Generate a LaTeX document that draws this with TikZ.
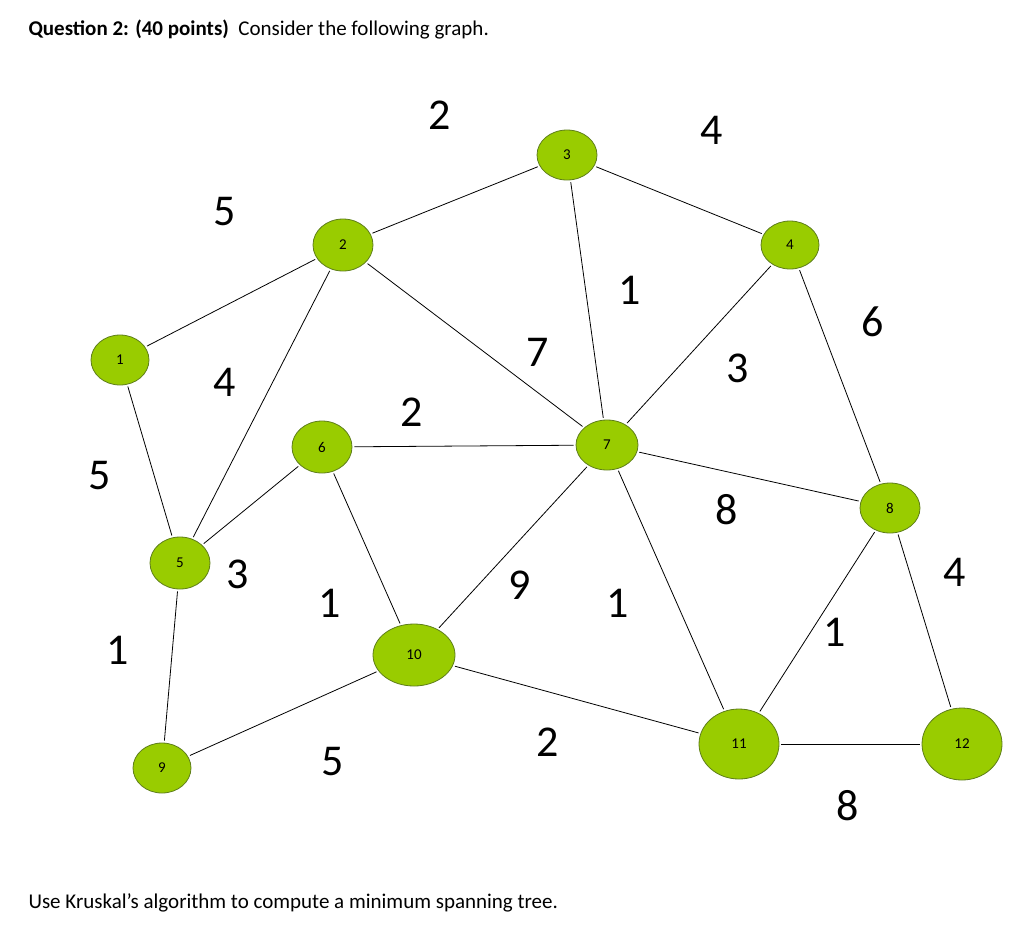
\documentclass[tikz,border=0pt]{standalone}
\usepackage{fontspec}
\setmainfont{Carlito}
\definecolor{ng}{HTML}{99CC00}
\definecolor{nb}{HTML}{5E7E1A}
\begin{document}
\begin{tikzpicture}[x=1pt,y=-1pt,
  vtx/.style={ellipse,draw=nb,line width=0.8pt,fill=ng,inner sep=0pt,font=\fontsize{15}{15}\selectfont},
  edge/.style={line width=0.8pt,shorten <=2pt,shorten >=2pt},
  wt/.style={font=\fontsize{44}{44}\selectfont}]
\useasboundingbox (0,0) rectangle (1024,927);
\usetikzlibrary{shapes.geometric}
\node[anchor=west,font=\fontsize{21}{21}\selectfont] (title) at (25,30) {\textbf{Question 2: (40 points)}\ \ Consider the following graph.};
\node[anchor=west,font=\fontsize{21}{21}\selectfont] (foot) at (25,903) {Use Kruskal’s algorithm to compute a minimum spanning tree.};
\node[vtx,minimum width=58,minimum height=50] (n1) at (120,360) {1};
\node[vtx,minimum width=60,minimum height=52] (n2) at (343,245) {2};
\node[vtx,minimum width=60,minimum height=50] (n3) at (567,155) {3};
\node[vtx,minimum width=58,minimum height=48] (n4) at (790,245) {4};
\node[vtx,minimum width=60,minimum height=52] (n5) at (180,563) {5};
\node[vtx,minimum width=60,minimum height=52] (n6) at (322,447) {6};
\node[vtx,minimum width=62,minimum height=50] (n7) at (607,445) {7};
\node[vtx,minimum width=60,minimum height=50] (n8) at (890,508) {8};
\node[vtx,minimum width=58,minimum height=50] (n9) at (162,768) {9};
\node[vtx,minimum width=82,minimum height=62] (n10) at (414,655) {10};
\node[vtx,minimum width=80,minimum height=70] (n11) at (739,744) {11};
\node[vtx,minimum width=80,minimum height=72] (n12) at (962,744) {12};
\foreach \a/\b in {1/2,1/5,2/3,2/5,2/7,3/4,3/7,4/7,4/8,5/6,5/9,6/7,6/10,7/8,7/10,7/11,8/11,8/12,9/10,10/11,11/12}
  \draw[edge] (n\a) -- (n\b);
\foreach \x/\y/\t [count=\i] in {440/115/2,712/130/4,225/212/5,630/290/1,873/322/6,538/352/7,738/368/3,225/382/4,412/412/2,100/476/5,727/510/8,238/574/3,955/572/4,330/603/1,520/585/9,618/603/1,118/650/1,835/632/1,333/762/5,548/742/2,848/806/8}
  \node[wt] (w\i) at (\x,\y) {\t};
\end{tikzpicture}
\end{document}
